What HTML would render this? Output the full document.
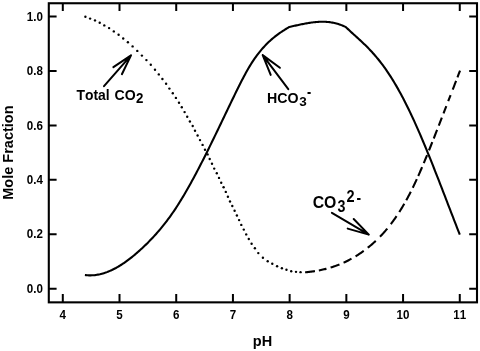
<!DOCTYPE html>
<html><head><meta charset="utf-8"><style>
html,body{margin:0;padding:0;background:#fff;width:480px;height:351px;overflow:hidden}
svg{display:block;filter:blur(0.3px)}
text{font-family:"Liberation Sans",Arial,sans-serif;font-weight:bold;fill:#000;font-kerning:none}
.tl text{font-size:11.6px}
.ax{font-size:14.5px}
</style></head><body>
<svg width="480" height="351" viewBox="0 0 480 351"><rect x="48.80" y="3.25" width="428.20" height="299.10" fill="none" stroke="#000" stroke-width="2.1"/>
<path d="M62.80 302.35V294.10M62.80 3.25V11.00M119.51 302.35V294.10M119.51 3.25V11.00M176.22 302.35V294.10M176.22 3.25V11.00M232.93 302.35V294.10M232.93 3.25V11.00M289.64 302.35V294.10M289.64 3.25V11.00M346.35 302.35V294.10M346.35 3.25V11.00M403.06 302.35V294.10M403.06 3.25V11.00M459.77 302.35V294.10M459.77 3.25V11.00M48.80 288.70H56.60M477.00 288.70H469.20M48.80 234.28H56.60M477.00 234.28H469.20M48.80 179.86H56.60M477.00 179.86H469.20M48.80 125.44H56.60M477.00 125.44H469.20M48.80 71.02H56.60M477.00 71.02H469.20M48.80 16.60H56.60M477.00 16.60H469.20" stroke="#000" stroke-width="2" fill="none"/>
<g class="tl"><text transform="translate(62.80 318.9) scale(1 1.05)" text-anchor="middle">4</text><text transform="translate(119.51 318.9) scale(1 1.05)" text-anchor="middle">5</text><text transform="translate(176.22 318.9) scale(1 1.05)" text-anchor="middle">6</text><text transform="translate(232.93 318.9) scale(1 1.05)" text-anchor="middle">7</text><text transform="translate(289.64 318.9) scale(1 1.05)" text-anchor="middle">8</text><text transform="translate(346.35 318.9) scale(1 1.05)" text-anchor="middle">9</text><text transform="translate(403.06 318.9) scale(1 1.05)" text-anchor="middle">10</text><text transform="translate(459.77 318.9) scale(1 1.05)" text-anchor="middle">11</text><text transform="translate(42.9 292.80) scale(1 1.03)" text-anchor="end">0.0</text><text transform="translate(42.9 238.38) scale(1 1.03)" text-anchor="end">0.2</text><text transform="translate(42.9 183.96) scale(1 1.03)" text-anchor="end">0.4</text><text transform="translate(42.9 129.54) scale(1 1.03)" text-anchor="end">0.6</text><text transform="translate(42.9 75.12) scale(1 1.03)" text-anchor="end">0.8</text><text transform="translate(42.9 20.70) scale(1 1.03)" text-anchor="end">1.0</text></g>
<path d="M84.90 275.00 L85.90 275.12 L86.90 275.22 L87.90 275.29 L88.90 275.33 L89.90 275.35 L90.90 275.35 L91.90 275.32 L92.90 275.26 L93.90 275.19 L94.90 275.09 L95.90 274.96 L96.90 274.81 L97.90 274.64 L98.90 274.45 L99.90 274.24 L100.90 274.00 L101.90 273.74 L102.90 273.46 L103.90 273.16 L104.90 272.84 L105.90 272.49 L106.90 272.13 L107.90 271.74 L108.90 271.34 L109.90 270.91 L110.90 270.47 L111.90 270.01 L112.90 269.52 L113.90 269.02 L114.90 268.50 L115.90 267.97 L116.90 267.41 L117.90 266.84 L118.90 266.25 L119.90 265.64 L120.90 265.01 L121.90 264.37 L122.90 263.71 L123.90 263.04 L124.90 262.35 L125.90 261.64 L126.90 260.92 L127.90 260.18 L128.90 259.43 L129.90 258.67 L130.90 257.89 L131.90 257.09 L132.90 256.28 L133.90 255.46 L134.90 254.62 L135.90 253.77 L136.90 252.91 L137.90 252.04 L138.90 251.15 L139.90 250.25 L140.90 249.34 L141.90 248.42 L142.90 247.49 L143.90 246.54 L144.90 245.58 L145.90 244.62 L146.90 243.63 L147.90 242.64 L148.90 241.63 L149.90 240.61 L150.90 239.58 L151.90 238.53 L152.90 237.47 L153.90 236.39 L154.90 235.30 L155.90 234.19 L156.90 233.06 L157.90 231.92 L158.90 230.76 L159.90 229.58 L160.90 228.39 L161.90 227.17 L162.90 225.94 L163.90 224.69 L164.90 223.42 L165.90 222.13 L166.90 220.82 L167.90 219.49 L168.90 218.13 L169.90 216.76 L170.90 215.36 L171.90 213.95 L172.90 212.51 L173.90 211.04 L174.90 209.56 L175.90 208.05 L176.90 206.51 L177.90 204.96 L178.90 203.38 L179.90 201.78 L180.90 200.16 L181.90 198.52 L182.90 196.86 L183.90 195.18 L184.90 193.49 L185.90 191.77 L186.90 190.03 L187.90 188.28 L188.90 186.51 L189.90 184.72 L190.90 182.92 L191.90 181.10 L192.90 179.26 L193.90 177.41 L194.90 175.55 L195.90 173.67 L196.90 171.78 L197.90 169.87 L198.90 167.96 L199.90 166.02 L200.90 164.08 L201.90 162.13 L202.90 160.16 L203.90 158.19 L204.90 156.20 L205.90 154.21 L206.90 152.21 L207.90 150.19 L208.90 148.17 L209.90 146.14 L210.90 144.11 L211.90 142.07 L212.90 140.02 L213.90 137.96 L214.90 135.90 L215.90 133.84 L216.90 131.77 L217.90 129.69 L218.90 127.62 L219.90 125.54 L220.90 123.45 L221.90 121.37 L222.90 119.28 L223.90 117.19 L224.90 115.10 L225.90 113.02 L226.90 110.93 L227.90 108.85 L228.90 106.77 L229.90 104.69 L230.90 102.61 L231.90 100.55 L232.90 98.48 L233.90 96.42 L234.90 94.37 L235.90 92.33 L236.90 90.30 L237.90 88.27 L238.90 86.26 L239.90 84.27 L240.90 82.30 L241.90 80.34 L242.90 78.42 L243.90 76.52 L244.90 74.65 L245.90 72.82 L246.90 71.02 L247.90 69.27 L248.90 67.55 L249.90 65.88 L250.90 64.26 L251.90 62.68 L252.90 61.15 L253.90 59.66 L254.90 58.21 L255.90 56.81 L256.90 55.44 L257.90 54.12 L258.90 52.83 L259.90 51.58 L260.90 50.37 L261.90 49.19 L262.90 48.05 L263.90 46.94 L264.90 45.86 L265.90 44.81 L266.90 43.80 L267.90 42.81 L268.90 41.85 L269.90 40.92 L270.90 40.02 L271.90 39.14 L272.90 38.29 L273.90 37.46 L274.90 36.66 L275.90 35.87 L276.90 35.11 L277.90 34.36 L278.90 33.64 L279.90 32.93 L280.90 32.24 L281.90 31.57 L282.90 30.91 L283.90 30.26 L284.90 29.63 L285.90 29.00 L286.90 28.39 L287.90 27.79 L288.90 27.20 L289.40 26.91 L290.40 26.69 L291.40 26.48 L292.40 26.26 L293.40 26.04 L294.40 25.83 L295.40 25.61 L296.40 25.39 L297.40 25.17 L298.40 24.96 L299.40 24.75 L300.40 24.54 L301.40 24.33 L302.40 24.13 L303.40 23.93 L304.40 23.74 L305.40 23.55 L306.40 23.37 L307.40 23.20 L308.40 23.03 L309.40 22.87 L310.40 22.72 L311.40 22.57 L312.40 22.44 L313.40 22.32 L314.40 22.21 L315.40 22.10 L316.40 22.01 L317.40 21.94 L318.40 21.87 L319.40 21.82 L320.40 21.78 L321.40 21.76 L322.40 21.75 L323.40 21.75 L324.40 21.77 L325.40 21.81 L326.40 21.87 L327.40 21.94 L328.40 22.03 L329.40 22.14 L330.40 22.27 L331.40 22.42 L332.40 22.59 L333.40 22.78 L334.40 22.99 L335.40 23.23 L336.40 23.48 L337.40 23.76 L338.40 24.06 L339.40 24.39 L340.40 24.74 L341.40 25.12 L342.40 25.52 L343.40 25.95 L344.40 26.41 L345.40 26.89 L346.00 27.19 L347.00 28.17 L348.00 29.13 L349.00 30.08 L350.00 31.01 L351.00 31.94 L352.00 32.85 L353.00 33.77 L354.00 34.67 L355.00 35.58 L356.00 36.48 L357.00 37.39 L358.00 38.30 L359.00 39.21 L360.00 40.13 L361.00 41.06 L362.00 42.00 L363.00 42.94 L364.00 43.90 L365.00 44.86 L366.00 45.84 L367.00 46.84 L368.00 47.85 L369.00 48.88 L370.00 49.93 L371.00 50.99 L372.00 52.07 L373.00 53.18 L374.00 54.30 L375.00 55.45 L376.00 56.61 L377.00 57.81 L378.00 59.02 L379.00 60.26 L380.00 61.52 L381.00 62.81 L382.00 64.13 L383.00 65.47 L384.00 66.84 L385.00 68.23 L386.00 69.65 L387.00 71.10 L388.00 72.58 L389.00 74.08 L390.00 75.61 L391.00 77.17 L392.00 78.76 L393.00 80.38 L394.00 82.03 L395.00 83.70 L396.00 85.40 L397.00 87.13 L398.00 88.89 L399.00 90.68 L400.00 92.49 L401.00 94.33 L402.00 96.20 L403.00 98.10 L404.00 100.02 L405.00 101.97 L406.00 103.95 L407.00 105.95 L408.00 107.98 L409.00 110.04 L410.00 112.12 L411.00 114.22 L412.00 116.35 L413.00 118.50 L414.00 120.68 L415.00 122.88 L416.00 125.10 L417.00 127.34 L418.00 129.61 L419.00 131.89 L420.00 134.20 L421.00 136.52 L422.00 138.87 L423.00 141.23 L424.00 143.61 L425.00 146.00 L426.00 148.42 L427.00 150.85 L428.00 153.29 L429.00 155.75 L430.00 158.22 L431.00 160.71 L432.00 163.21 L433.00 165.72 L434.00 168.24 L435.00 170.77 L436.00 173.31 L437.00 175.86 L438.00 178.42 L439.00 180.98 L440.00 183.55 L441.00 186.13 L442.00 188.71 L443.00 191.30 L444.00 193.89 L445.00 196.48 L446.00 199.07 L447.00 201.67 L448.00 204.27 L449.00 206.86 L450.00 209.46 L451.00 212.05 L452.00 214.64 L453.00 217.23 L454.00 219.82 L455.00 222.40 L456.00 224.97 L457.00 227.54 L458.00 230.10 L459.00 232.66 L459.80 234.69" fill="none" stroke="#000" stroke-width="2.1" stroke-linejoin="round"/>
<path d="M305.10 272.28 L305.15 272.28 L306.15 272.19 L307.15 272.10 L308.15 272.00 L309.15 271.89 L310.15 271.77 L311.15 271.65 L312.15 271.52 L313.15 271.38 L314.15 271.23 L314.95 271.11M318.85 270.43 L318.90 270.42 L319.90 270.22 L320.90 270.02 L321.90 269.80 L322.90 269.58 L323.90 269.35 L324.90 269.11 L325.90 268.86 L326.46 268.71M330.59 267.55 L330.65 267.53 L331.65 267.22 L332.65 266.90 L333.65 266.57 L334.65 266.23 L335.65 265.87 L336.65 265.51 L337.65 265.13 L338.65 264.75 L339.46 264.42M343.58 262.67 L343.65 262.64 L344.65 262.18 L345.65 261.71 L346.65 261.22 L347.65 260.73 L348.65 260.22 L349.65 259.69 L350.65 259.16 L351.48 258.70M355.57 256.32 L355.65 256.27 L356.65 255.65 L357.65 255.02 L358.65 254.37 L359.65 253.71 L360.65 253.03 L361.65 252.34 L362.65 251.64 L363.65 250.91 L363.74 250.85M367.81 247.75 L367.90 247.67 L368.90 246.87 L369.90 246.05 L370.90 245.21 L371.90 244.36 L372.90 243.48 L373.90 242.59 L374.90 241.68 L375.75 240.88M380.04 236.66 L380.15 236.55 L381.15 235.50 L382.15 234.44 L383.15 233.34 L384.15 232.23 L385.15 231.09 L386.15 229.92 L387.15 228.73 L387.27 228.58M390.77 224.19 L390.90 224.02 L391.90 222.70 L392.90 221.35 L393.90 219.97 L394.90 218.56 L395.90 217.12 L396.54 216.18M399.26 212.05 L399.40 211.83 L400.40 210.24 L401.40 208.63 L402.40 206.98 L403.40 205.29 L404.30 203.74M406.25 200.30 L406.40 200.02 L407.40 198.20 L408.40 196.33 L409.40 194.43 L410.40 192.49 L410.81 191.68M412.74 187.80 L412.90 187.47 L413.90 185.39 L414.90 183.28 L415.90 181.13 L416.82 179.12M418.23 175.98 L418.40 175.60 L419.40 173.34 L420.40 171.04 L421.40 168.72 L422.07 167.15M423.73 163.22 L423.90 162.81 L424.90 160.41 L425.90 157.98 L426.90 155.54 L427.07 155.11M428.97 150.42 L429.15 149.99 L430.15 147.49 L431.15 144.99 L432.15 142.47 L432.33 142.03M433.72 138.49 L433.90 138.04 L434.90 135.50 L435.90 132.95 L436.90 130.39 L437.08 129.94M438.72 125.72 L438.90 125.26 L439.90 122.69 L440.90 120.12 L441.83 117.73M443.47 113.48 L443.65 113.03 L444.65 110.44 L445.65 107.86 L446.33 106.10M448.22 101.20 L448.40 100.74 L449.40 98.15 L450.40 95.56 L450.58 95.10M452.72 89.55 L452.90 89.09 L453.90 86.51 L454.90 83.92 L455.90 81.34 L456.08 80.88M457.47 77.28 L457.65 76.82 L458.65 74.24 L459.65 71.66 L460.03 70.69" fill="none" stroke="#000" stroke-width="2.1"/>
<g fill="#000"><circle cx="85.40" cy="16.70" r="1.2"/><circle cx="90.10" cy="18.60" r="1.2"/><circle cx="95.00" cy="20.40" r="1.2"/><circle cx="99.70" cy="22.70" r="1.2"/><circle cx="104.30" cy="25.40" r="1.2"/><circle cx="109.10" cy="28.10" r="1.2"/><circle cx="113.80" cy="31.40" r="1.2"/><circle cx="118.60" cy="34.70" r="1.2"/><circle cx="123.20" cy="38.50" r="1.2"/><circle cx="127.90" cy="42.30" r="1.2"/><circle cx="132.60" cy="46.40" r="1.2"/><circle cx="137.30" cy="50.90" r="1.2"/><circle cx="141.90" cy="55.60" r="1.2"/><circle cx="146.40" cy="60.10" r="1.2"/><circle cx="150.80" cy="64.70" r="1.2"/><circle cx="155.00" cy="69.70" r="1.2"/><circle cx="158.80" cy="74.40" r="1.2"/><circle cx="162.40" cy="79.00" r="1.2"/><circle cx="166.10" cy="83.75" r="1.2"/><circle cx="169.40" cy="88.60" r="1.2"/><circle cx="172.80" cy="93.20" r="1.2"/><circle cx="175.90" cy="97.90" r="1.2"/><circle cx="179.00" cy="102.70" r="1.2"/><circle cx="181.80" cy="107.30" r="1.2"/><circle cx="184.60" cy="112.10" r="1.2"/><circle cx="187.20" cy="116.80" r="1.2"/><circle cx="189.90" cy="121.45" r="1.2"/><circle cx="192.70" cy="126.00" r="1.2"/><circle cx="195.00" cy="130.80" r="1.2"/><circle cx="197.60" cy="135.50" r="1.2"/><circle cx="200.00" cy="140.10" r="1.2"/><circle cx="202.60" cy="144.90" r="1.2"/><circle cx="205.00" cy="149.70" r="1.2"/><circle cx="207.60" cy="154.40" r="1.2"/><circle cx="209.70" cy="159.00" r="1.2"/><circle cx="212.00" cy="163.75" r="1.2"/><circle cx="214.20" cy="168.60" r="1.2"/><circle cx="216.80" cy="173.20" r="1.2"/><circle cx="219.00" cy="177.90" r="1.2"/><circle cx="221.20" cy="182.70" r="1.2"/><circle cx="223.60" cy="187.30" r="1.2"/><circle cx="225.80" cy="191.90" r="1.2"/><circle cx="227.90" cy="196.80" r="1.2"/><circle cx="230.00" cy="201.45" r="1.2"/><circle cx="232.30" cy="206.00" r="1.2"/><circle cx="234.60" cy="210.80" r="1.2"/><circle cx="236.90" cy="215.50" r="1.2"/><circle cx="239.10" cy="220.10" r="1.2"/><circle cx="241.30" cy="224.90" r="1.2"/><circle cx="243.80" cy="229.60" r="1.2"/><circle cx="246.20" cy="234.40" r="1.2"/><circle cx="248.80" cy="239.05" r="1.2"/><circle cx="251.60" cy="243.70" r="1.2"/><circle cx="254.90" cy="248.30" r="1.2"/><circle cx="258.30" cy="253.10" r="1.2"/><circle cx="262.90" cy="257.70" r="1.2"/><circle cx="267.70" cy="261.20" r="1.2"/><circle cx="272.30" cy="263.80" r="1.2"/><circle cx="277.10" cy="266.20" r="1.2"/><circle cx="281.90" cy="268.20" r="1.2"/><circle cx="286.45" cy="269.80" r="1.2"/><circle cx="291.20" cy="271.25" r="1.2"/><circle cx="296.00" cy="271.85" r="1.2"/><circle cx="300.55" cy="272.15" r="1.2"/></g>
<path d="M104.00 86.20L131.00 55.35M113.40 67.10L131.00 55.35L121.90 74.20" fill="none" stroke="#000" stroke-width="2" stroke-linecap="round" stroke-linejoin="round"/>
<path d="M288.30 89.20L262.70 55.10M279.90 67.80L262.70 55.10L270.70 74.90" fill="none" stroke="#000" stroke-width="2" stroke-linecap="round" stroke-linejoin="round"/>
<path d="M331.90 212.80L368.80 234.60M353.70 219.00L368.80 234.60L347.70 228.60" fill="none" stroke="#000" stroke-width="2" stroke-linecap="round" stroke-linejoin="round"/>
<g><text transform="matrix(0.9940 0 0 0.9872 76.39 99.57)" font-size="14">Total</text><text transform="matrix(1.0082 0 0 1.0391 114.47 99.71)" font-size="14">CO</text><text transform="matrix(0.9495 0 0 0.9821 135.99 102.95)" font-size="14">2</text></g>
<g><text transform="matrix(1.0140 0 0 1.0190 267.10 102.71)" font-size="14">HCO</text><text transform="matrix(0.9628 0 0 0.9464 299.24 105.70)" font-size="14">3</text><text transform="matrix(0.9002 0 0 1.1703 306.96 96.75)" font-size="14">-</text></g>
<g><text transform="matrix(1.0539 0 0 1.0640 312.70 207.89)" font-size="15">CO</text><text transform="matrix(0.9522 0 0 1.0618 337.52 211.67)" font-size="15">3</text><text transform="matrix(0.9693 0 0 1.0980 346.55 202.35)" font-size="15">2</text><text transform="matrix(0.9190 0 0 1.1028 356.41 202.79)" font-size="15">-</text></g>
<text class="ax" x="262.5" y="345.6" text-anchor="middle">pH</text>
<text class="ax" transform="translate(12.55 152.6) rotate(-90) scale(1 1.06)" text-anchor="middle">Mole Fraction</text></svg>
</body></html>
